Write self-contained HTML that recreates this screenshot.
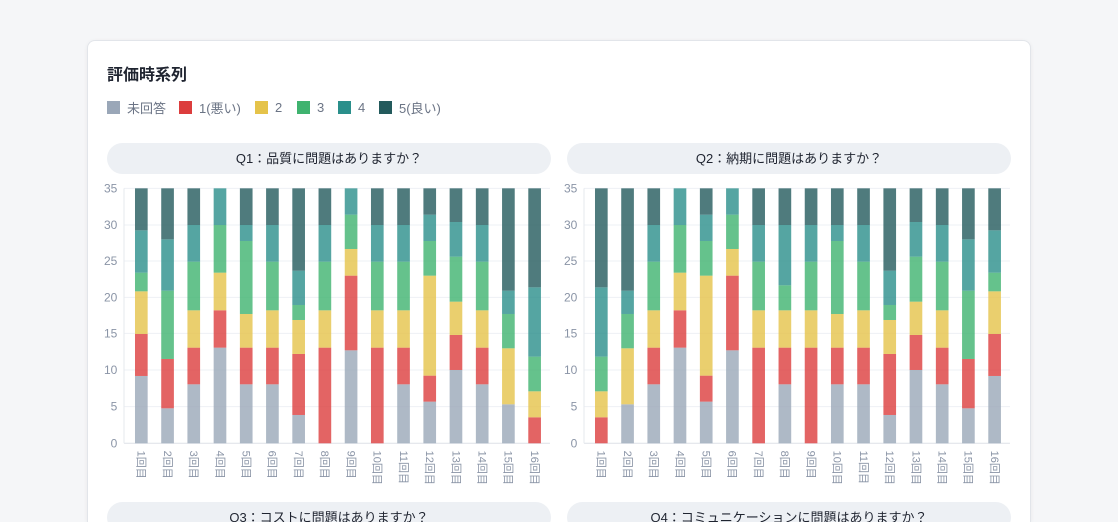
<!DOCTYPE html>
<html><head><meta charset="utf-8"><style>
html,body{margin:0;padding:0;width:1118px;height:522px;overflow:hidden}
body{background:#f5f6f8;font-family:"Liberation Sans","Noto Sans CJK JP",sans-serif;position:relative}
.card{position:absolute;left:87px;top:40px;width:942px;height:481px;background:#fff;border:1px solid #e2e5ea;border-bottom:none;border-radius:8px 8px 0 0;box-shadow:0 1px 4px rgba(0,0,0,.06)}
.title{position:absolute;left:107px;top:61px;font-size:16px;font-weight:bold;color:#1f2430}
.leg{position:absolute;top:98px;font-size:13px;color:#6b7485;display:flex;align-items:center;height:18px}
.leg i{display:inline-block;width:13px;height:13px;margin-right:7px}
.pill{position:absolute;height:31px;line-height:31px;background:#edf0f4;border-radius:16px;text-align:center;font-size:13px;color:#1f2430;width:444px}
svg{position:absolute;left:0;top:0}
</style></head><body>
<div class="card"></div>
<div class="title">評価時系列</div>
<div class="leg" style="left:107px"><i style="background:#9aa7b8"></i>未回答</div>
<div class="leg" style="left:179px"><i style="background:#dc3d3d"></i>1(悪い)</div>
<div class="leg" style="left:255px"><i style="background:#e5c34a"></i>2</div>
<div class="leg" style="left:297px"><i style="background:#3fb36f"></i>3</div>
<div class="leg" style="left:338px"><i style="background:#2a8f8b"></i>4</div>
<div class="leg" style="left:379px"><i style="background:#235a5c"></i>5(良い)</div>
<div class="pill" style="left:107px;top:143px">Q1：品質に問題はありますか？</div>
<div class="pill" style="left:567px;top:143px">Q2：納期に問題はありますか？</div>
<div class="pill" style="left:107px;top:502px">Q3：コストに問題はありますか？</div>
<div class="pill" style="left:567px;top:502px">Q4：コミュニケーションに問題はありますか？</div>
<svg width="1118" height="522" xmlns="http://www.w3.org/2000/svg">
<defs>
<style>.g{fill:#9aa7b8}.r{fill:#dc3d3d}.y{fill:#e5c34a}.n{fill:#3fb36f}.t{fill:#2a8f8b}.d{fill:#235a5c}.bar rect{width:38px;opacity:.8}</style>
<g id="P1" class="bar"><rect class="g" y="588" height="202"/><rect class="r" y="462" height="126"/><rect class="y" y="334" height="128"/><rect class="n" y="278" height="56"/><rect class="t" y="151" height="127"/><rect class="d" y="25" height="126"/></g>
<g id="P2" class="bar"><rect class="g" y="685" height="105"/><rect class="r" y="537" height="148"/><rect class="n" y="332" height="205"/><rect class="t" y="178" height="154"/><rect class="d" y="25" height="153"/></g>
<g id="A" class="bar"><rect class="g" y="613" height="177"/><rect class="r" y="503" height="110"/><rect class="y" y="391" height="112"/><rect class="n" y="245" height="146"/><rect class="t" y="135" height="110"/><rect class="d" y="25" height="110"/></g>
<g id="P4" class="bar"><rect class="g" y="503" height="287"/><rect class="r" y="391" height="112"/><rect class="y" y="278" height="113"/><rect class="n" y="135" height="143"/><rect class="t" y="25" height="110"/></g>
<g id="P5" class="bar"><rect class="g" y="613" height="177"/><rect class="r" y="503" height="110"/><rect class="y" y="402" height="101"/><rect class="n" y="183" height="219"/><rect class="t" y="135" height="48"/><rect class="d" y="25" height="110"/></g>
<g id="P7" class="bar"><rect class="g" y="705" height="85"/><rect class="r" y="522" height="183"/><rect class="y" y="420" height="102"/><rect class="n" y="375" height="45"/><rect class="t" y="272" height="103"/><rect class="d" y="25" height="247"/></g>
<g id="B" class="bar"><rect class="r" y="503" height="287"/><rect class="y" y="391" height="112"/><rect class="n" y="245" height="146"/><rect class="t" y="135" height="110"/><rect class="d" y="25" height="110"/></g>
<g id="P9" class="bar"><rect class="g" y="511" height="279"/><rect class="r" y="287" height="224"/><rect class="y" y="207" height="80"/><rect class="n" y="104" height="103"/><rect class="t" y="25" height="79"/></g>
<g id="P12" class="bar"><rect class="g" y="665" height="125"/><rect class="r" y="587" height="78"/><rect class="y" y="287" height="300"/><rect class="n" y="183" height="104"/><rect class="t" y="104" height="79"/><rect class="d" y="25" height="79"/></g>
<g id="P13" class="bar"><rect class="g" y="570" height="220"/><rect class="r" y="465" height="105"/><rect class="y" y="365" height="100"/><rect class="n" y="230" height="135"/><rect class="t" y="126" height="104"/><rect class="d" y="25" height="101"/></g>
<g id="P15" class="bar"><rect class="g" y="673" height="117"/><rect class="y" y="505" height="168"/><rect class="n" y="402" height="103"/><rect class="t" y="332" height="70"/><rect class="d" y="25" height="307"/></g>
<g id="P16" class="bar"><rect class="r" y="712" height="78"/><rect class="y" y="634" height="78"/><rect class="n" y="530" height="104"/><rect class="t" y="322" height="208"/><rect class="d" y="25" height="297"/></g>
<g id="R8" class="bar"><rect class="g" y="613" height="177"/><rect class="r" y="503" height="110"/><rect class="y" y="391" height="112"/><rect class="n" y="316" height="75"/><rect class="t" y="135" height="181"/><rect class="d" y="25" height="110"/></g>
<g id="axis">
<g stroke="#eef0f4" stroke-width="3"><line x1="72" x2="1350" y1="680" y2="680"/><line x1="72" x2="1350" y1="570" y2="570"/><line x1="72" x2="1350" y1="460" y2="460"/><line x1="72" x2="1350" y1="352" y2="352"/><line x1="72" x2="1350" y1="243" y2="243"/><line x1="72" x2="1350" y1="135" y2="135"/><line x1="72" x2="1350" y1="25" y2="25"/></g>
<line x1="72" x2="1350" y1="790" y2="790" stroke="#dde1e7" stroke-width="3"/>
<line x1="72" x2="72" y1="25" y2="790" stroke="#e6e9ee" stroke-width="3"/>
<g fill="#8a94a6" font-size="36" text-anchor="end" font-family="Liberation Sans,sans-serif"><text x="52" y="802">0</text><text x="52" y="692">5</text><text x="52" y="582">10</text><text x="52" y="472">15</text><text x="52" y="364">20</text><text x="52" y="255">25</text><text x="52" y="147">30</text><text x="52" y="37">35</text></g>
<g fill="#8a94a6" font-size="33" font-family="Liberation Sans,Noto Sans CJK JP,sans-serif">
<text transform="translate(113,812) rotate(90)">1回目</text><text transform="translate(191.7,812) rotate(90)">2回目</text><text transform="translate(270.3,812) rotate(90)">3回目</text><text transform="translate(349,812) rotate(90)">4回目</text><text transform="translate(427.7,812) rotate(90)">5回目</text><text transform="translate(506.3,812) rotate(90)">6回目</text><text transform="translate(585,812) rotate(90)">7回目</text><text transform="translate(663.7,812) rotate(90)">8回目</text><text transform="translate(742.3,812) rotate(90)">9回目</text><text transform="translate(821,812) rotate(90)">10回目</text><text transform="translate(899.7,812) rotate(90)">11回目</text><text transform="translate(978.3,812) rotate(90)">12回目</text><text transform="translate(1057,812) rotate(90)">13回目</text><text transform="translate(1135.7,812) rotate(90)">14回目</text><text transform="translate(1214.3,812) rotate(90)">15回目</text><text transform="translate(1293,812) rotate(90)">16回目</text>
</g>
</g>
</defs>
<g transform="translate(100,180) scale(0.3333)">
<use href="#axis"/>
<use href="#P1" x="105"/><use href="#P2" x="183.7"/><use href="#A" x="262.3"/><use href="#P4" x="341"/><use href="#P5" x="419.7"/><use href="#A" x="498.3"/><use href="#P7" x="577"/><use href="#B" x="655.7"/><use href="#P9" x="734.3"/><use href="#B" x="813"/><use href="#A" x="891.7"/><use href="#P12" x="970.3"/><use href="#P13" x="1049"/><use href="#A" x="1127.7"/><use href="#P15" x="1206.3"/><use href="#P16" x="1285"/>
</g>
<g transform="translate(560,180) scale(0.3333)">
<use href="#axis"/>
<use href="#P16" x="105"/><use href="#P15" x="183.7"/><use href="#A" x="262.3"/><use href="#P4" x="341"/><use href="#P12" x="419.7"/><use href="#P9" x="498.3"/><use href="#B" x="577"/><use href="#R8" x="655.7"/><use href="#B" x="734.3"/><use href="#P5" x="813"/><use href="#A" x="891.7"/><use href="#P7" x="970.3"/><use href="#P13" x="1049"/><use href="#A" x="1127.7"/><use href="#P2" x="1206.3"/><use href="#P1" x="1285"/>
</g>
</svg>
</body></html>
